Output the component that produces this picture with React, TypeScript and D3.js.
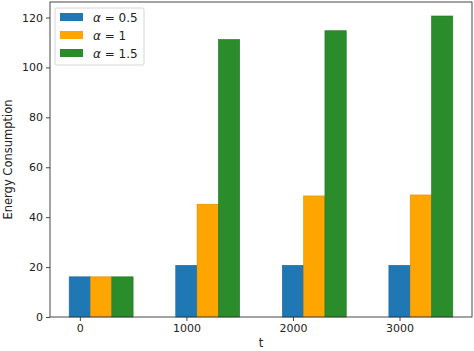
import * as d3 from "d3";
import { useEffect, useRef } from "react";

const times = [0, 1000, 2000, 3000];
const alphas = ["0.5", "1", "1.5"];
const energyA05 = [16.1, 20.7, 20.7, 20.7];
const energyA1 = [16.1, 45.2, 48.5, 48.9];
const energyA15 = [16.1, 111.2, 114.7, 120.6];
const colors = ["#1f77b4", "#ffa500", "#2a8c2a"];
const yTicks = [0, 20, 40, 60, 80, 100, 120];

const W = 474;
const H = 351;
const font = "DejaVu Sans, sans-serif";

export default function App() {
  const ref = useRef<SVGSVGElement>(null);

  useEffect(() => {
    document.body.style.margin = "0";
    const svg = d3.select(ref.current);
    svg.selectAll("*").remove();

    const left = 50;
    const right = 472;
    const top = 2;
    const bottom = 317;
    const barW = 200;

    const x = d3.scaleLinear().domain([-280, 3680]).range([left, right]);
    const y = d3.scaleLinear().domain([0, 120]).range([bottom, 17.5]);

    const series = [energyA05, energyA1, energyA15];

    series.forEach((vals, si) => {
      svg
        .append("g")
        .selectAll("rect")
        .data(vals)
        .join("rect")
        .attr("x", (_, i) => x(times[i] + si * barW - barW / 2))
        .attr("width", x(barW) - x(0))
        .attr("y", (d) => y(d))
        .attr("height", (d) => y(0) - y(d))
        .attr("fill", colors[si])
        .attr("stroke", d3.color(colors[si])!.darker(0.4).toString())
        .attr("stroke-width", 0.6);
    });

    // frame
    svg
      .append("rect")
      .attr("x", left)
      .attr("y", top)
      .attr("width", right - left)
      .attr("height", bottom - top)
      .attr("fill", "none")
      .attr("stroke", "#333")
      .attr("stroke-width", 0.9);

    const xAxis = svg
      .append("g")
      .attr("transform", `translate(0,${bottom})`)
      .call(d3.axisBottom(x).tickValues(times).tickSize(4).tickPadding(3).tickFormat(d3.format("d")));
    const yAxis = svg
      .append("g")
      .attr("transform", `translate(${left},0)`)
      .call(d3.axisLeft(y).tickValues(yTicks).tickSize(4).tickPadding(3));
    [xAxis, yAxis].forEach((a) => {
      a.select(".domain").remove();
      a.selectAll("line").attr("stroke", "#333").attr("stroke-width", 0.9);
      a.selectAll("text")
        .attr("font-family", font)
        .attr("font-size", 11)
        .attr("fill", "#222");
    });

    svg
      .append("text")
      .attr("x", (left + right) / 2)
      .attr("y", 347)
      .attr("text-anchor", "middle")
      .attr("font-family", font)
      .attr("font-size", 11.5)
      .attr("fill", "#222")
      .text("t");

    svg
      .append("text")
      .attr("transform", `translate(12,${(top + bottom) / 2}) rotate(-90)`)
      .attr("text-anchor", "middle")
      .attr("font-family", font)
      .attr("font-size", 11.5)
      .attr("fill", "#222")
      .text("Energy Consumption");

    // legend
    const lg = svg.append("g").attr("transform", "translate(55,8)");
    lg.append("rect")
      .attr("width", 89)
      .attr("height", 57)
      .attr("rx", 2)
      .attr("fill", "white")
      .attr("fill-opacity", 0.8)
      .attr("stroke", "#ccc")
      .attr("stroke-width", 0.8);
    alphas.forEach((a, i) => {
      const row = lg.append("g").attr("transform", `translate(5,${9 + i * 18})`);
      row.append("rect")
        .attr("x", 0)
        .attr("y", -4)
        .attr("width", 23)
        .attr("height", 8)
        .attr("fill", colors[i]);
      const t = row
        .append("text")
        .attr("x", 33)
        .attr("y", 4.5)
        .attr("font-family", font)
        .attr("font-size", 12)
        .attr("fill", "#222");
      t.append("tspan").attr("font-style", "italic").text("α");
      t.append("tspan").text(` = ${a}`);
    });
  }, []);

  return <svg ref={ref} width={W} height={H} style={{ display: "block", background: "white" }} />;
}
